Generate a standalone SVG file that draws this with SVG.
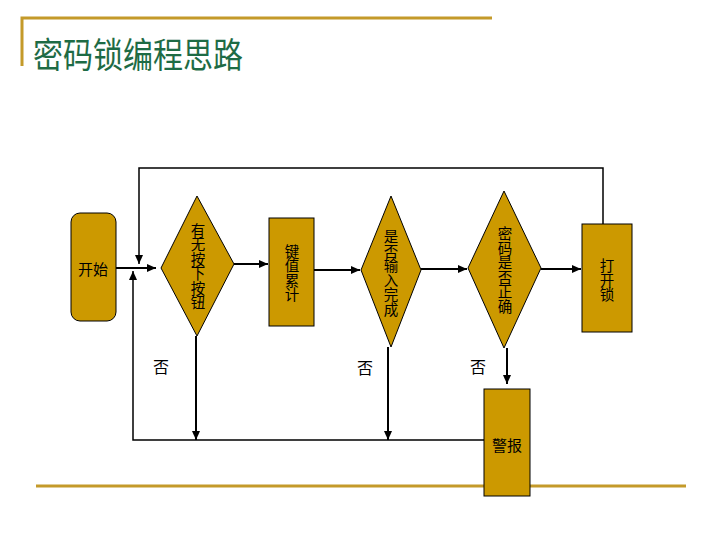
<svg xmlns="http://www.w3.org/2000/svg" width="720" height="540" viewBox="0 0 720 540">
<style>
.deco{stroke:#C49A2A;stroke-width:3;fill:none}
.node{fill:#CC9900;stroke:#000;stroke-width:1}
.lbl{font-family:"Noto Sans CJK SC","Liberation Sans",sans-serif;font-size:15px;fill:#000;text-anchor:middle}
.vl{font-family:"Noto Sans CJK SC","Liberation Sans",sans-serif;font-size:14.5px;fill:#000;text-anchor:middle;writing-mode:vertical-rl;glyph-orientation-vertical:0}
.no{font-family:"Noto Sans CJK SC","Liberation Sans",sans-serif;font-size:16px;fill:#000;text-anchor:middle}
.thick{stroke:#000;stroke-width:2;fill:none}
.thin{stroke:#000;stroke-width:1.5;fill:none}
</style>
<defs>
<marker id="ah" markerUnits="userSpaceOnUse" markerWidth="10" markerHeight="8" refX="9" refY="4" orient="auto">
<path d="M0,0 L9,4 L0,8 Z" fill="#000"/>
</marker>
</defs>
<rect width="720" height="540" fill="#fff"/>
<g id="decoration">
<path class="deco" d="M22,66 V18 H492"/>
<line class="deco" x1="36" y1="486" x2="686" y2="486"/>
<text x="33" y="68" font-family="'Noto Sans CJK SC',sans-serif" font-size="35" fill="#1E6B45" textLength="210" lengthAdjust="spacingAndGlyphs">密码锁编程思路</text>
</g>
<g id="connectors">
<line class="thick" x1="116" y1="268" x2="156" y2="268" marker-end="url(#ah)"/>
<line class="thick" x1="234" y1="264" x2="268" y2="264" marker-end="url(#ah)"/>
<line class="thick" x1="314" y1="270" x2="360" y2="270" marker-end="url(#ah)"/>
<line class="thick" x1="421" y1="269" x2="467" y2="269" marker-end="url(#ah)"/>
<line class="thick" x1="541" y1="269" x2="581" y2="269" marker-end="url(#ah)"/>
<path class="thin" d="M603,224 V168 H139 V264" marker-end="url(#ah)"/>
<path class="thin" d="M484,440 H133 V271" marker-end="url(#ah)"/>
<line class="thick" x1="196" y1="336" x2="196" y2="440" marker-end="url(#ah)"/>
<line class="thick" x1="388" y1="347" x2="388" y2="440" marker-end="url(#ah)"/>
<line class="thick" x1="507" y1="348" x2="507" y2="384" marker-end="url(#ah)"/>
<text class="no" x="161" y="373">否</text>
<text class="no" x="365" y="374">否</text>
<text class="no" x="478" y="373">否</text>
</g>
<g id="start">
<rect class="node" x="71" y="213" width="45" height="108" rx="9"/>
<text class="lbl" x="93" y="275">开始</text>
</g>
<g id="check-key">
<polygon class="node" points="197,196 234,264 197,336 161,268"/>
<text class="vl" x="198" y="266.5">有无按下按钮</text>
</g>
<g id="accumulate">
<rect class="node" x="269" y="218" width="45" height="108"/>
<text class="vl" x="292" y="273">键值累计</text>
</g>
<g id="input-done">
<polygon class="node" points="391,196 421,270 391,347 361,270"/>
<text class="vl" x="391" y="273">是否输入完成</text>
</g>
<g id="password-ok">
<polygon class="node" points="504,191 541,268 504,348 468,268"/>
<text class="vl" x="505" y="270">密码是否正确</text>
</g>
<g id="unlock">
<rect class="node" x="582" y="224" width="50" height="108"/>
<text class="vl" x="607" y="280">打开锁</text>
</g>
<g id="alarm">
<rect class="node" x="484" y="389" width="46" height="107"/>
<text class="lbl" x="507" y="451">警报</text>
</g>
</svg>
